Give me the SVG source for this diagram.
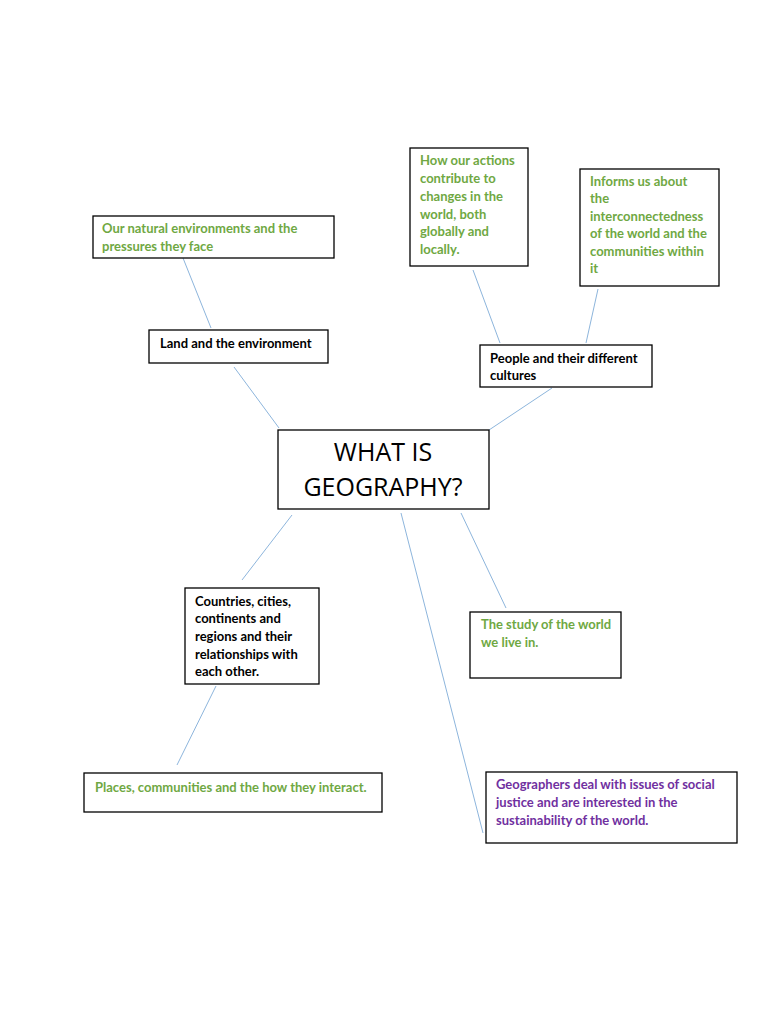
<svg xmlns="http://www.w3.org/2000/svg" width="768" height="1024" viewBox="0 0 768 1024">
<style>
.box{fill:#fff;stroke:#000;stroke-width:1.3}
.t{font-family:Lato,"Open Sans","Liberation Sans",sans-serif;font-size:13px;font-weight:bold}
.g{fill:#6fa843}
.k{fill:#000}
.p{fill:#7030a0}
.big{font-family:"Open Sans","Liberation Sans",sans-serif;font-size:25px;fill:#000}
.c line{stroke:#8db5dc;stroke-width:1}
</style>
<rect width="768" height="1024" fill="#fff"/>
<g class="c" id="connectors">
<line x1="183" y1="258" x2="211" y2="328"/>
<line x1="234" y1="367" x2="279" y2="428"/>
<line x1="473" y1="270" x2="500" y2="343"/>
<line x1="598" y1="289" x2="586" y2="343"/>
<line x1="552" y1="388" x2="489" y2="430"/>
<line x1="292" y1="515" x2="242" y2="580"/>
<line x1="216" y1="686" x2="177" y2="765"/>
<line x1="401" y1="513" x2="483" y2="833"/>
<line x1="461" y1="513" x2="506" y2="608"/>
</g>
<g id="natural">
<rect class="box" x="93" y="216" width="241" height="42"/>
<text class="t g" x="102" y="233">Our natural environments and the</text>
<text class="t g" x="102" y="251">pressures they face</text>
</g>
<g id="actions">
<rect class="box" x="410" y="148" width="118" height="118"/>
<text class="t g" x="420" y="165">How our actions</text>
<text class="t g" x="420" y="183">contribute to</text>
<text class="t g" x="420" y="201">changes in the</text>
<text class="t g" x="420" y="219">world, both</text>
<text class="t g" x="420" y="236">globally and</text>
<text class="t g" x="420" y="254">locally.</text>
</g>
<g id="informs">
<rect class="box" x="580" y="169" width="139" height="117"/>
<text class="t g" x="590" y="186">Informs us about</text>
<text class="t g" x="590" y="203">the</text>
<text class="t g" x="590" y="221">interconnectedness</text>
<text class="t g" x="590" y="238">of the world and the</text>
<text class="t g" x="590" y="256">communities within</text>
<text class="t g" x="590" y="273">it</text>
</g>
<g id="land">
<rect class="box" x="149" y="330" width="179" height="33"/>
<text class="t k" x="160" y="348">Land and the environment</text>
</g>
<g id="people">
<rect class="box" x="480" y="345" width="172" height="42"/>
<text class="t k" x="490" y="363">People and their different</text>
<text class="t k" x="490" y="380">cultures</text>
</g>
<g id="center">
<rect class="box" x="278" y="430" width="211" height="79"/>
<text class="big" x="383" y="461" text-anchor="middle">WHAT IS</text>
<text class="big" x="383" y="496" text-anchor="middle">GEOGRAPHY?</text>
</g>
<g id="countries">
<rect class="box" x="185" y="588" width="134" height="96"/>
<text class="t k" x="195" y="606">Countries, cities,</text>
<text class="t k" x="195" y="623">continents and</text>
<text class="t k" x="195" y="641">regions and their</text>
<text class="t k" x="195" y="659">relationships with</text>
<text class="t k" x="195" y="676">each other.</text>
</g>
<g id="study">
<rect class="box" x="470" y="612" width="151" height="66"/>
<text class="t g" x="481" y="629">The study of the world</text>
<text class="t g" x="481" y="647">we live in.</text>
</g>
<g id="places">
<rect class="box" x="84" y="773" width="298" height="39"/>
<text class="t g" x="95" y="792">Places, communities and the how they interact.</text>
</g>
<g id="geographers">
<rect class="box" x="486" y="772" width="251" height="71"/>
<text class="t p" x="496" y="789">Geographers deal with issues of social</text>
<text class="t p" x="496" y="807">justice and are interested in the</text>
<text class="t p" x="496" y="825">sustainability of the world.</text>
</g>
</svg>
